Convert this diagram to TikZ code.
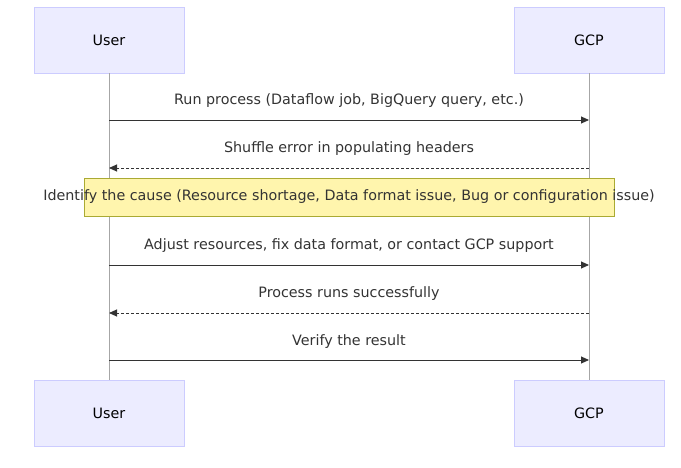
\documentclass[tikz,border=0pt]{standalone}
\usepackage{fontspec}
\setmainfont{DejaVu Sans}
\usetikzlibrary{arrows.meta}
\definecolor{actfill}{HTML}{ECECFF}
\definecolor{actdraw}{HTML}{CCCCFF}
\definecolor{notefill}{HTML}{FFF5AD}
\definecolor{notedraw}{HTML}{AAAA33}
\definecolor{ink}{HTML}{333333}
\tikzset{
  actor/.style={draw=actdraw,fill=actfill,minimum width=150pt,minimum height=66pt,font=\fontsize{14.3}{16}\selectfont,inner sep=0pt},
  life/.style={draw=gray!70,line width=0.6pt},
  msg/.style={draw=ink,line width=0.9pt,-{Triangle[length=8pt,width=7pt]}},
  reply/.style={msg,dash pattern=on 3pt off 2pt},
  lbl/.style={font=\fontsize{14.3}{16}\selectfont,text=ink,inner sep=0pt}
}
\begin{document}
\begin{tikzpicture}[x=1pt,y=-1pt]
\useasboundingbox (0,0) rectangle (681,467);
\node[actor] (u1) at (109,40) {User};
\node[actor] (g1) at (589,40) {GCP};
\node[actor] (u2) at (109,413.5) {User};
\node[actor] (g2) at (589,413.5) {GCP};
\draw[life] (u1.south) -- (u2.north);
\draw[life] (g1.south) -- (g2.north);
\coordinate (ua) at (109,120); \coordinate (ga) at (589,120);
\coordinate (ub) at (109,168); \coordinate (gb) at (589,168);
\coordinate (uc) at (109,265); \coordinate (gc) at (589,265);
\coordinate (ud) at (109,313); \coordinate (gd) at (589,313);
\coordinate (ue) at (109,360); \coordinate (ge) at (589,360);
\draw[msg] (ua) -- (ga);
\draw[reply] (gb) -- (ub);
\draw[msg] (uc) -- (gc);
\draw[reply] (gd) -- (ud);
\draw[msg] (ue) -- (ge);
\node[lbl] (la) at (349,101) {Run process (Dataflow job, BigQuery query, etc.)};
\node[lbl] (lb) at (349,149) {Shuffle error in populating headers};
\node[draw=notedraw,fill=notefill,minimum width=530pt,minimum height=38pt] (note) at (349,197) {};
\node[lbl] (nt) at (349,197) {Identify the cause (Resource shortage, Data format issue, Bug or configuration issue)};
\node[lbl] (lc) at (349,246) {Adjust resources, fix data format, or contact GCP support};
\node[lbl] (ld) at (349,294) {Process runs successfully};
\node[lbl] (le) at (349,342) {Verify the result};
\end{tikzpicture}
\end{document}
